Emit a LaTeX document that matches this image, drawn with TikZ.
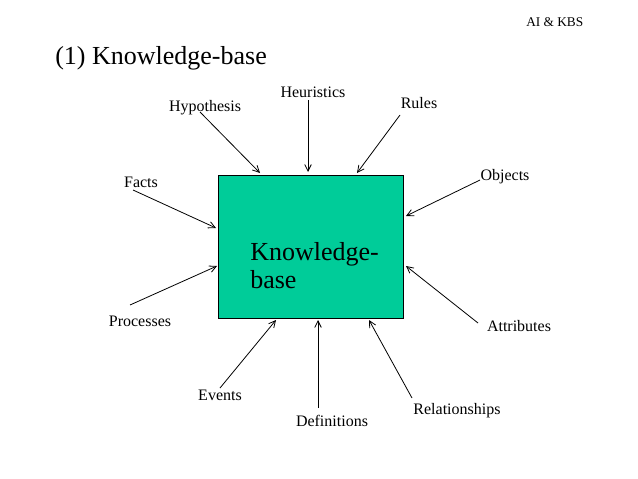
\documentclass[tikz,border=0pt]{standalone}
\usepackage{fontspec}
\setmainfont{Liberation Serif}
\usetikzlibrary{arrows.meta}
\begin{document}
\begin{tikzpicture}[x=0.75pt,y=-0.75pt,
  lbl/.style={font=\fontsize{12}{14}\selectfont,inner sep=1pt},
  con/.style={-{Straight Barb[length=5pt,width=5pt]},line width=0.6pt}]
\useasboundingbox (0,0) rectangle (638,478);
\definecolor{kb}{HTML}{00CC99}
\node[font=\fontsize{10}{12}\selectfont,anchor=east] (ai) at (588,22) {AI \& KBS};
\node[font=\fontsize{19.5}{22}\selectfont,anchor=west,inner sep=0] (title) at (55,58) {(1) Knowledge-base};
\node[draw,fill=kb,minimum width=138.75pt,minimum height=107.25pt,anchor=north west,line width=0.6pt] (kbox) at (218,175) {};
\node[font=\fontsize{19.5}{21}\selectfont,anchor=west,align=left,inner sep=0] (kbt) at (250,266) {Knowledge-\\base};
\node[lbl] (hyp) at (205,108) {Hypothesis};
\node[lbl] (heu) at (313,92) {Heuristics};
\node[lbl] (rul) at (419,103) {Rules};
\node[lbl] (fac) at (141,182) {Facts};
\node[lbl] (obj) at (505,177) {Objects};
\node[lbl] (pro) at (140,321) {Processes};
\node[lbl] (att) at (519,326) {Attributes};
\node[lbl] (evt) at (220,395) {Events};
\node[lbl] (def) at (332,421) {Definitions};
\node[lbl] (rel) at (457,411) {Relationships};
\foreach \n/\a/\b in {h1/{200,112}/{260,173}, h2/{308,100}/{308,172}, h3/{400,115}/{357,173},
  f1/{133,190}/{216,228}, o1/{480,180}/{406,216}, p1/{130,305}/{217,266}, a1/{478,323}/{406,266},
  e1/{220,388}/{276,320}, d1/{318,408}/{318,320}, r1/{412,398}/{369,320}}{
  \coordinate (\n s) at (\a); \coordinate (\n e) at (\b);
  \draw[con] (\n s) -- (\n e);}
\end{tikzpicture}
\end{document}
